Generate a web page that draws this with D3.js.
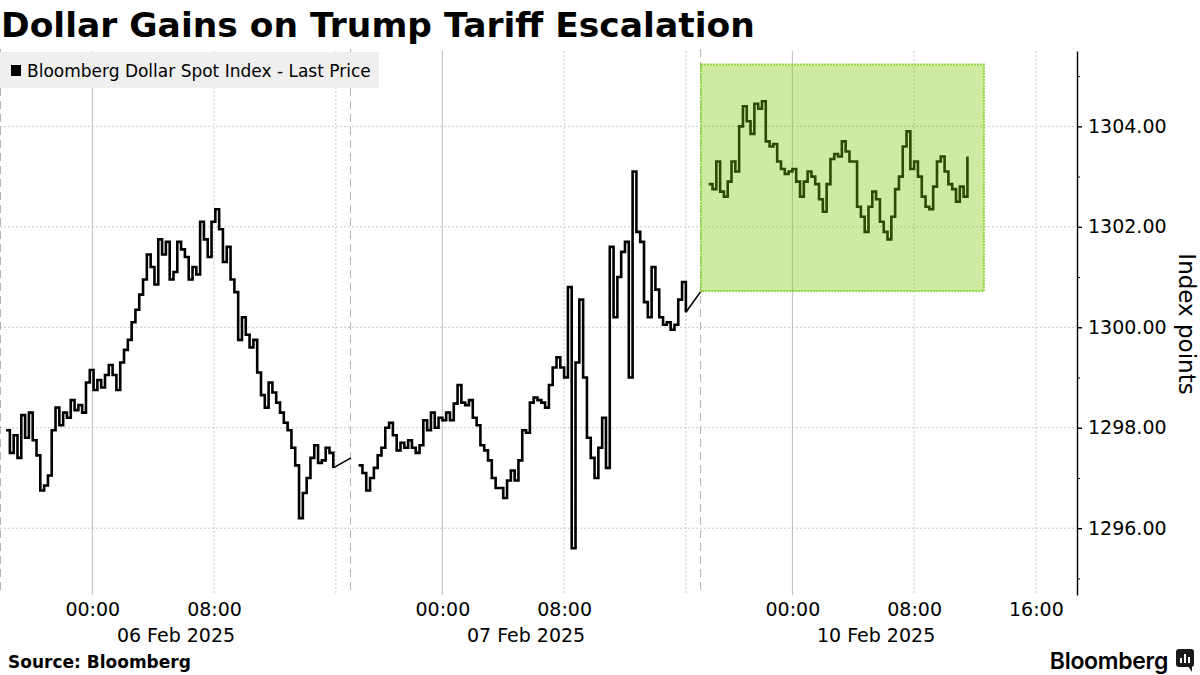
<!DOCTYPE html>
<html lang="en">
<head>
  <meta charset="UTF-8">
  <title>Dollar Gains on Trump Tariff Escalation</title>
  <script src="https://d3js.org/d3.v7.min.js"></script>
  <style>
    body { margin: 0; background: #fff; }
    svg { display: block; font-family: "DejaVu Sans", Verdana, sans-serif; }
  </style>
</head>
<body>
  <div id="chart"></div>
  <script>
    // Each trading session runs 18:00 -> 17:00 (23 h); gaps between sessions are collapsed
    const sessionOpens = ["2025-02-05T18:00", "2025-02-06T18:00", "2025-02-09T18:00"];
    const sessionDays = ["06 Feb 2025", "07 Feb 2025", "10 Feb 2025"];
    const firstPrints = ["2025-02-05T18:20", "2025-02-06T18:30", "2025-02-09T18:30"];
    const stepMinutes = 15;

    // Bloomberg Dollar Spot Index, 15-minute prints
    const s1Values = [
      1297.95, 1297.5, 1297.85, 1297.4, 1298.25, 1297.8, 1298.3, 1297.75, 1297.45, 1296.75,
      1296.85, 1297.05, 1297.95, 1298.4, 1298.05, 1298.3, 1298.2, 1298.55, 1298.35, 1298.45,
      1298.3, 1298.9, 1299.15, 1298.75, 1298.95, 1298.8, 1299.05, 1299.25, 1299.05, 1298.75,
      1299.3, 1299.55, 1299.75, 1300.1, 1300.35, 1300.65, 1300.95, 1301.45, 1301.2, 1300.85,
      1301.75, 1301.45, 1301.7, 1300.95, 1301.1, 1301.7, 1301.55, 1301.4, 1300.95, 1301.2,
      1301.05, 1302.1, 1301.75, 1301.4, 1302.1, 1302.35, 1301.95, 1301.3, 1301.6, 1300.95,
      1300.7, 1299.75, 1300.2, 1299.85, 1299.6, 1299.75, 1299.1, 1298.65, 1298.4, 1298.9,
      1298.7, 1298.5, 1298.3, 1298.1, 1297.95, 1297.6, 1297.25, 1296.2, 1296.7, 1297.0,
      1297.4, 1297.65, 1297.3, 1297.35, 1297.6, 1297.5, 1297.2
    ];
    const s2Values = [
      1297.25, 1297.1, 1296.75, 1297.0, 1297.2, 1297.45, 1297.6, 1298.0, 1298.1, 1297.85,
      1297.55, 1297.7, 1297.6, 1297.75, 1297.6, 1297.5, 1297.65, 1298.15, 1297.95, 1298.3,
      1298.0, 1298.2, 1298.15, 1298.3, 1298.15, 1298.48, 1298.85, 1298.5, 1298.45, 1298.55,
      1298.2, 1298.05, 1297.65, 1297.55, 1297.35, 1297.0, 1296.8, 1296.8, 1296.6, 1296.95,
      1297.15, 1296.95, 1297.35, 1297.95, 1297.9, 1298.5, 1298.6, 1298.55, 1298.5, 1298.4,
      1298.85, 1299.2, 1299.4, 1299.2, 1299.0, 1300.8, 1295.6, 1299.3, 1300.55, 1299.0,
      1297.8, 1297.4, 1297.0, 1297.6, 1298.2, 1297.2, 1301.6, 1300.2, 1301.0, 1301.5,
      1301.7, 1299.0, 1303.1, 1301.9, 1301.7, 1300.5, 1300.2, 1301.2, 1300.75, 1300.2,
      1300.05, 1300.1, 1299.95, 1300.05, 1300.55, 1300.9, 1300.3
    ];
    const s3Values = [
      1302.85, 1302.75, 1303.3, 1302.7, 1302.6, 1302.9, 1303.3, 1303.1, 1304.0, 1304.4,
      1304.1, 1303.85, 1304.45, 1304.35, 1304.5, 1303.7, 1303.6, 1303.65, 1303.3, 1303.15,
      1303.05, 1303.1, 1303.15, 1302.9, 1302.6, 1302.9, 1303.1, 1303.0, 1302.85, 1302.55,
      1302.3, 1302.85, 1303.35, 1303.45, 1303.4, 1303.7, 1303.5, 1303.3, 1303.3, 1302.4,
      1302.2, 1301.9, 1302.4, 1302.7, 1302.55, 1302.1, 1301.9, 1301.75, 1302.2, 1302.75,
      1303.0, 1303.6, 1303.9, 1303.15, 1303.3, 1303.0, 1302.6, 1302.4, 1302.35, 1302.8,
      1303.3, 1303.4, 1303.1, 1302.85, 1302.75, 1302.5, 1302.8, 1302.6, 1303.4
    ];
    // value the line runs to at the session close (17:00)
    const closeValues = [1297.4, 1300.72, null];

    const gridTimes = [
      "2025-02-06T00:00", "2025-02-06T08:00", "2025-02-06T16:00",
      "2025-02-07T00:00", "2025-02-07T08:00", "2025-02-07T16:00",
      "2025-02-10T00:00", "2025-02-10T08:00", "2025-02-10T16:00"
    ];
    const gridLabels = ["00:00", "08:00", "", "00:00", "08:00", "", "00:00", "08:00", "16:00"];

    const yMajor = [1296, 1298, 1300, 1302, 1304];
    const yMinor = [1295, 1297, 1299, 1301, 1303, 1305];

    // highlighted window
    const boxTimes = ["2025-02-09T18:00", "2025-02-10T12:35"];
    const boxValues = [1300.72, 1305.23];

    const width = 1200, height = 675;
    const plot = { left: 1, right: 1077, top: 51, bottom: 595 };
    const sessionHours = 23;

    const parse = d3.timeParse("%Y-%m-%dT%H:%M");
    const opens = sessionOpens.map(parse);

    // date -> hours on the collapsed trading axis
    function tradingHours(date) {
      for (let k = opens.length - 1; k >= 0; k--) {
        if (date >= opens[k]) return k * sessionHours + (date - opens[k]) / 36e5;
      }
      return 0;
    }

    const x = d3.scaleLinear().domain([0, 70.7]).range([plot.left, plot.right]);
    const y = d3.scaleLinear().domain([1294.67, 1305.5]).range([plot.bottom, plot.top]);

    const sessions = [s1Values, s2Values, s3Values].map((vals, k) =>
      vals.map((v, i) => ({ t: d3.timeMinute.offset(parse(firstPrints[k]), i * stepMinutes), v }))
    );

    const svg = d3.select("#chart").append("svg")
      .attr("width", width)
      .attr("height", height)
      .attr("viewBox", [0, 0, width, height]);

    // horizontal grid
    svg.append("g")
      .selectAll("line")
      .data(yMajor)
      .join("line")
      .attr("x1", plot.left - 1).attr("x2", plot.right)
      .attr("y1", d => y(d)).attr("y2", d => y(d))
      .attr("stroke", "#c8c8c8")
      .attr("stroke-dasharray", "2,2");

    // vertical grid
    const gridU = gridTimes.map(t => tradingHours(parse(t)));
    svg.append("g")
      .selectAll("line")
      .data(gridU)
      .join("line")
      .attr("x1", d => x(d)).attr("x2", d => x(d))
      .attr("y1", plot.top).attr("y2", plot.bottom)
      .attr("stroke", (d, i) => gridLabels[i] === "00:00" ? "#bdbdbd" : "#c8c8c8")
      .attr("stroke-dasharray", (d, i) => gridLabels[i] === "00:00" ? null : "2,2");

    // session breaks
    svg.append("g")
      .selectAll("line")
      .data(opens.map((d, k) => k * sessionHours))
      .join("line")
      .attr("x1", d => x(d) - 0.5).attr("x2", d => x(d) - 0.5)
      .attr("y1", plot.top - 2).attr("y2", plot.bottom)
      .attr("stroke", "#b4b4b4")
      .attr("stroke-dasharray", "8,5");

    // price line
    const line = d3.line()
      .x(d => x(tradingHours(d.t)))
      .y(d => y(d.v))
      .curve(d3.curveStepAfter);

    const lines = svg.append("g")
      .attr("fill", "none")
      .attr("stroke", "#000")
      .attr("stroke-width", 2.6);

    sessions.forEach((s, k) => {
      lines.append("path").attr("d", line(s));
      if (closeValues[k] != null) {
        const last = s[s.length - 1];
        const close = { t: d3.timeHour.offset(opens[k], sessionHours), v: closeValues[k] };
        lines.append("path")
          .attr("stroke-width", 1.6)
          .attr("d", d3.line().x(d => x(tradingHours(d.t))).y(d => y(d.v))([last, close]));
      }
    });

    // green highlight box (drawn over the line)
    const bx0 = x(tradingHours(parse(boxTimes[0])));
    const bx1 = x(tradingHours(parse(boxTimes[1])));
    const by0 = y(boxValues[1]);
    const by1 = y(boxValues[0]);
    svg.append("rect")
      .attr("x", bx0).attr("y", by0)
      .attr("width", bx1 - bx0).attr("height", by1 - by0)
      .attr("fill", "#79c800")
      .attr("fill-opacity", 0.37);
    svg.append("rect")
      .attr("x", bx0).attr("y", by0)
      .attr("width", bx1 - bx0).attr("height", by1 - by0)
      .attr("fill", "none")
      .attr("stroke", "#8fd43a")
      .attr("stroke-width", 2)
      .attr("stroke-dasharray", "2,1");

    // y axis (right)
    const yAxis = svg.append("g")
      .attr("transform", `translate(${plot.right},0)`)
      .call(d3.axisRight(y).tickValues(yMajor).tickFormat(d3.format(".2f"))
        .tickSize(5).tickSizeOuter(0).tickPadding(6));
    yAxis.select(".domain").attr("stroke", "#000").attr("stroke-width", 1.4);
    yAxis.selectAll("text").attr("font-size", 19).attr("fill", "#000")
      .attr("font-family", "DejaVu Sans, sans-serif");
    yAxis.selectAll(".tick line").attr("stroke-width", 1.4);

    const yMinorAxis = svg.append("g")
      .attr("transform", `translate(${plot.right},0)`)
      .call(d3.axisRight(y).tickValues(yMinor).tickFormat("").tickSize(3).tickSizeOuter(0));
    yMinorAxis.select(".domain").remove();

    svg.append("text")
      .attr("transform", `translate(1187,${(plot.top + plot.bottom) / 2 + 1}) rotate(90)`)
      .attr("text-anchor", "middle")
      .attr("dominant-baseline", "central")
      .attr("font-size", 23)
      .text("Index points");

    // x axis labels
    const xAxis = svg.append("g")
      .attr("transform", `translate(0,${plot.bottom})`)
      .call(d3.axisBottom(x).tickValues(gridU).tickFormat((d, i) => gridLabels[i])
        .tickSize(0).tickPadding(8));
    xAxis.select(".domain").remove();
    xAxis.selectAll("text").attr("font-size", 19).attr("fill", "#000")
      .attr("font-family", "DejaVu Sans, sans-serif");

    svg.append("g")
      .selectAll("text")
      .data(sessionDays)
      .join("text")
      .attr("x", (d, k) => x(k * sessionHours + sessionHours / 2))
      .attr("y", 642)
      .attr("text-anchor", "middle")
      .attr("font-size", 19)
      .text(d => d);

    // legend
    svg.append("rect")
      .attr("x", 0).attr("y", 52).attr("width", 379).attr("height", 36)
      .attr("fill", "#efefef");
    svg.append("rect")
      .attr("x", 11).attr("y", 65).attr("width", 10).attr("height", 11)
      .attr("fill", "#000");
    svg.append("text")
      .attr("x", 27).attr("y", 77)
      .attr("font-size", 17)
      .text("Bloomberg Dollar Spot Index - Last Price");

    // title
    svg.append("text")
      .attr("x", 1).attr("y", 37)
      .attr("font-size", 34.5)
      .attr("font-weight", "bold")
      .text("Dollar Gains on Trump Tariff Escalation");

    // footer
    svg.append("text")
      .attr("x", 8).attr("y", 668)
      .attr("font-size", 17)
      .attr("font-weight", "bold")
      .text("Source: Bloomberg");

    svg.append("text")
      .attr("x", 1168).attr("y", 669)
      .attr("text-anchor", "end")
      .attr("font-family", "Inter, Roboto, sans-serif")
      .attr("font-weight", 600)
      .attr("font-size", 23)
      .attr("letter-spacing", -0.3)
      .text("Bloomberg");

    const logo = svg.append("g").attr("transform", "translate(1176,649)");
    logo.append("rect").attr("width", 18).attr("height", 18).attr("rx", 3).attr("fill", "#1a1a1a");
    logo.append("path").attr("d", "M12,17 L16,23 L16,17 Z").attr("fill", "#1a1a1a");
    logo.selectAll(".bar")
      .data([[4, 9, 5], [8, 5, 9], [12, 8, 6]])
      .join("rect")
      .attr("x", d => d[0]).attr("y", d => d[1])
      .attr("width", 2).attr("height", d => d[2])
      .attr("fill", "#fff");
  </script>
</body>
</html>
